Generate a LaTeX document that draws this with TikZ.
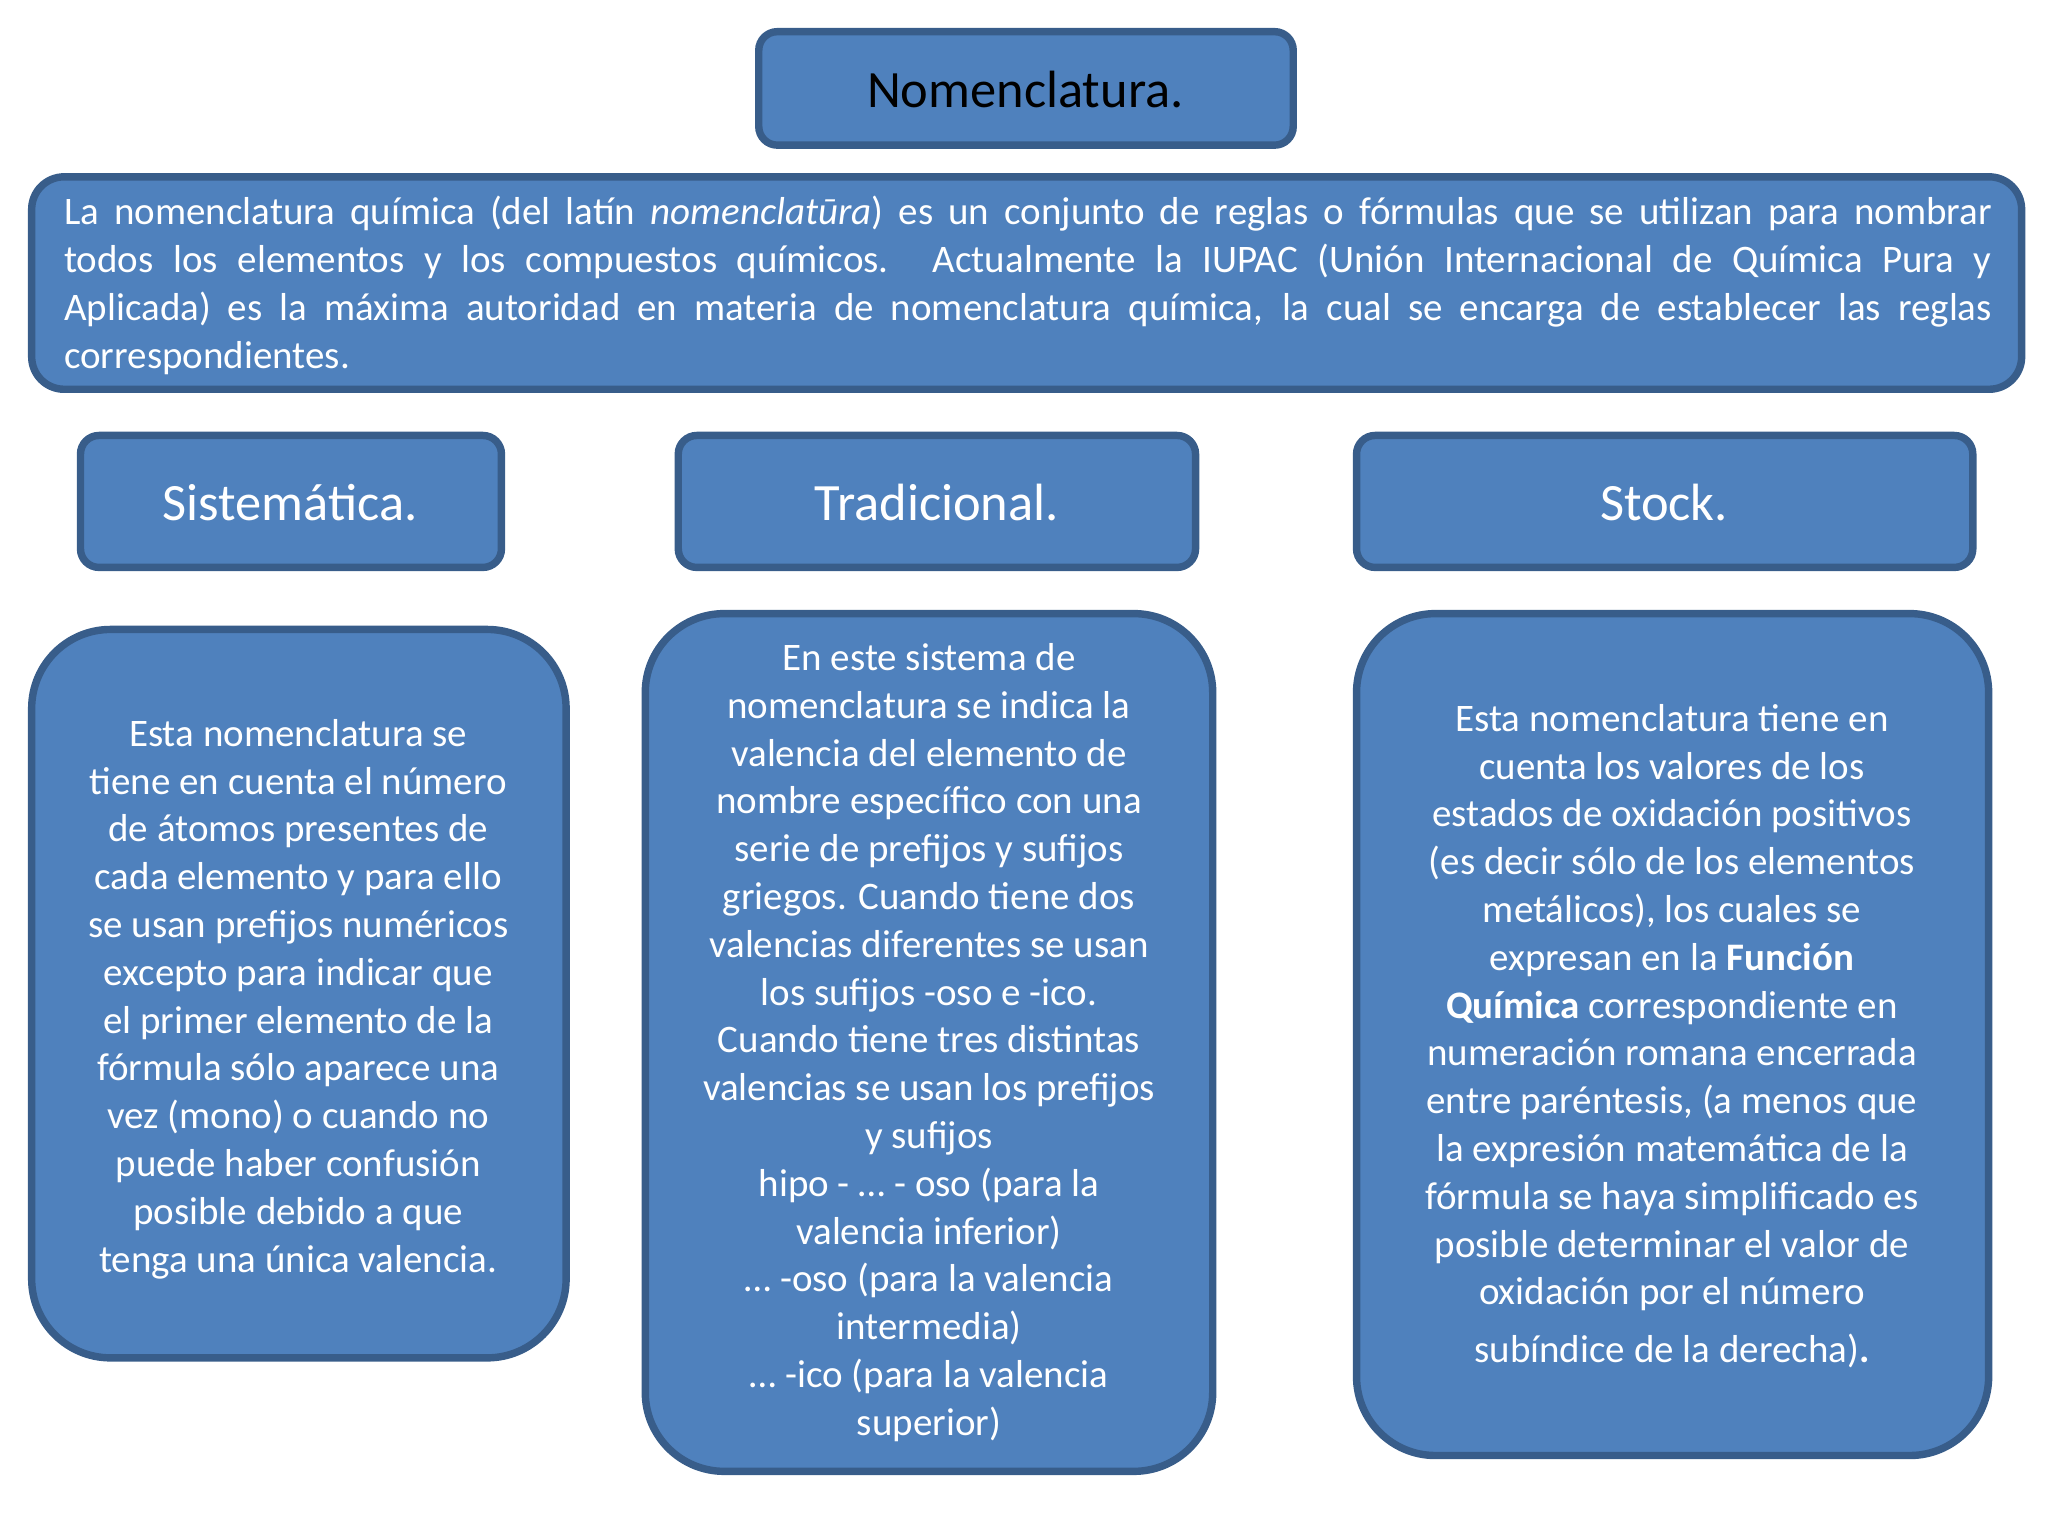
\documentclass[tikz,border=0pt]{standalone}
\usepackage{fontspec}
\setmainfont{Carlito}
\definecolor{boxfill}{HTML}{4F81BD}
\definecolor{boxline}{HTML}{385D8A}
\tikzset{
  box/.style={draw=boxline,line width=1.6pt,fill=boxfill,rounded corners=4pt},
  bigbox/.style={draw=boxline,line width=1.6pt,fill=boxfill,rounded corners=17pt},
  txt/.style={text=white,align=center,font=\fontsize{8.4}{10.3}\selectfont,inner sep=0pt},
  head/.style={text=white,font=\fontsize{11.3}{13}\selectfont}
}
\begin{document}
\begin{tikzpicture}[x=0.01cm,y=-0.01cm]
\useasboundingbox (0,0) rectangle (1552,1164);

% title
\draw[box] (575,24) rectangle (980,110);
\node[font=\fontsize{11.3}{13}\selectfont] (title) at (777,68) {Nomenclatura.};

% intro
\draw[box,rounded corners=7pt] (24,134) rectangle (1532,295);
\node[txt,align=justify,text width=14.6cm,anchor=north west] (intro) at (48,148) {La nomenclatura química (del latín \textit{nomenclatūra}) es un conjunto de reglas o fórmulas que se utilizan para nombrar\linebreak todos los elementos y los compuestos químicos. Actualmente la IUPAC (Unión Internacional de Química Pura y\linebreak Aplicada) es la máxima autoridad en materia de nomenclatura química, la cual se encarga de establecer las reglas\linebreak correspondientes.};

% headings
\draw[box] (61,330) rectangle (380,430);
\node[head] (sis) at (220,381) {Sistemática.};
\draw[box] (514,330) rectangle (906,430);
\node[head] (tra) at (710,381) {Tradicional.};
\draw[box] (1028,330) rectangle (1495,430);
\node[head] (sto) at (1261,381) {Stock.};

% descriptions
\draw[bigbox] (24,477) rectangle (429,1029);
\node[txt] (sisdesc) at (226,757) {Esta nomenclatura se\\tiene en cuenta el número\\de átomos presentes de\\cada elemento y para ello\\se usan prefijos numéricos\\excepto para indicar que\\el primer elemento de la\\fórmula sólo aparece una\\vez (mono) o cuando no\\puede haber confusión\\posible debido a que\\tenga una única valencia.};

\draw[bigbox] (489,465) rectangle (919,1115);
\node[txt] (tradesc) at (704,790) {En este sistema de\\nomenclatura se indica la\\valencia del elemento de\\nombre específico con una\\serie de prefijos y sufijos\\griegos. Cuando tiene dos\\valencias diferentes se usan\\los sufijos -oso e -ico.\\Cuando tiene tres distintas\\valencias se usan los prefijos\\y sufijos\\hipo - … - oso (para la\\valencia inferior)\\… -oso (para la valencia\\intermedia)\\… -ico (para la valencia\\superior)};

\draw[bigbox] (1028,465) rectangle (1507,1103);
\node[txt] (stodesc) at (1267,785) {Esta nomenclatura tiene en\\cuenta los valores de los\\estados de oxidación positivos\\(es decir sólo de los elementos\\metálicos), los cuales se\\expresan en la \textbf{Función}\\\textbf{Química} correspondiente en\\numeración romana encerrada\\entre paréntesis, (a menos que\\la expresión matemática de la\\fórmula se haya simplificado es\\posible determinar el valor de\\oxidación por el número\\[2pt]subíndice de la derecha)\textbf{.}};
\end{tikzpicture}
\end{document}
